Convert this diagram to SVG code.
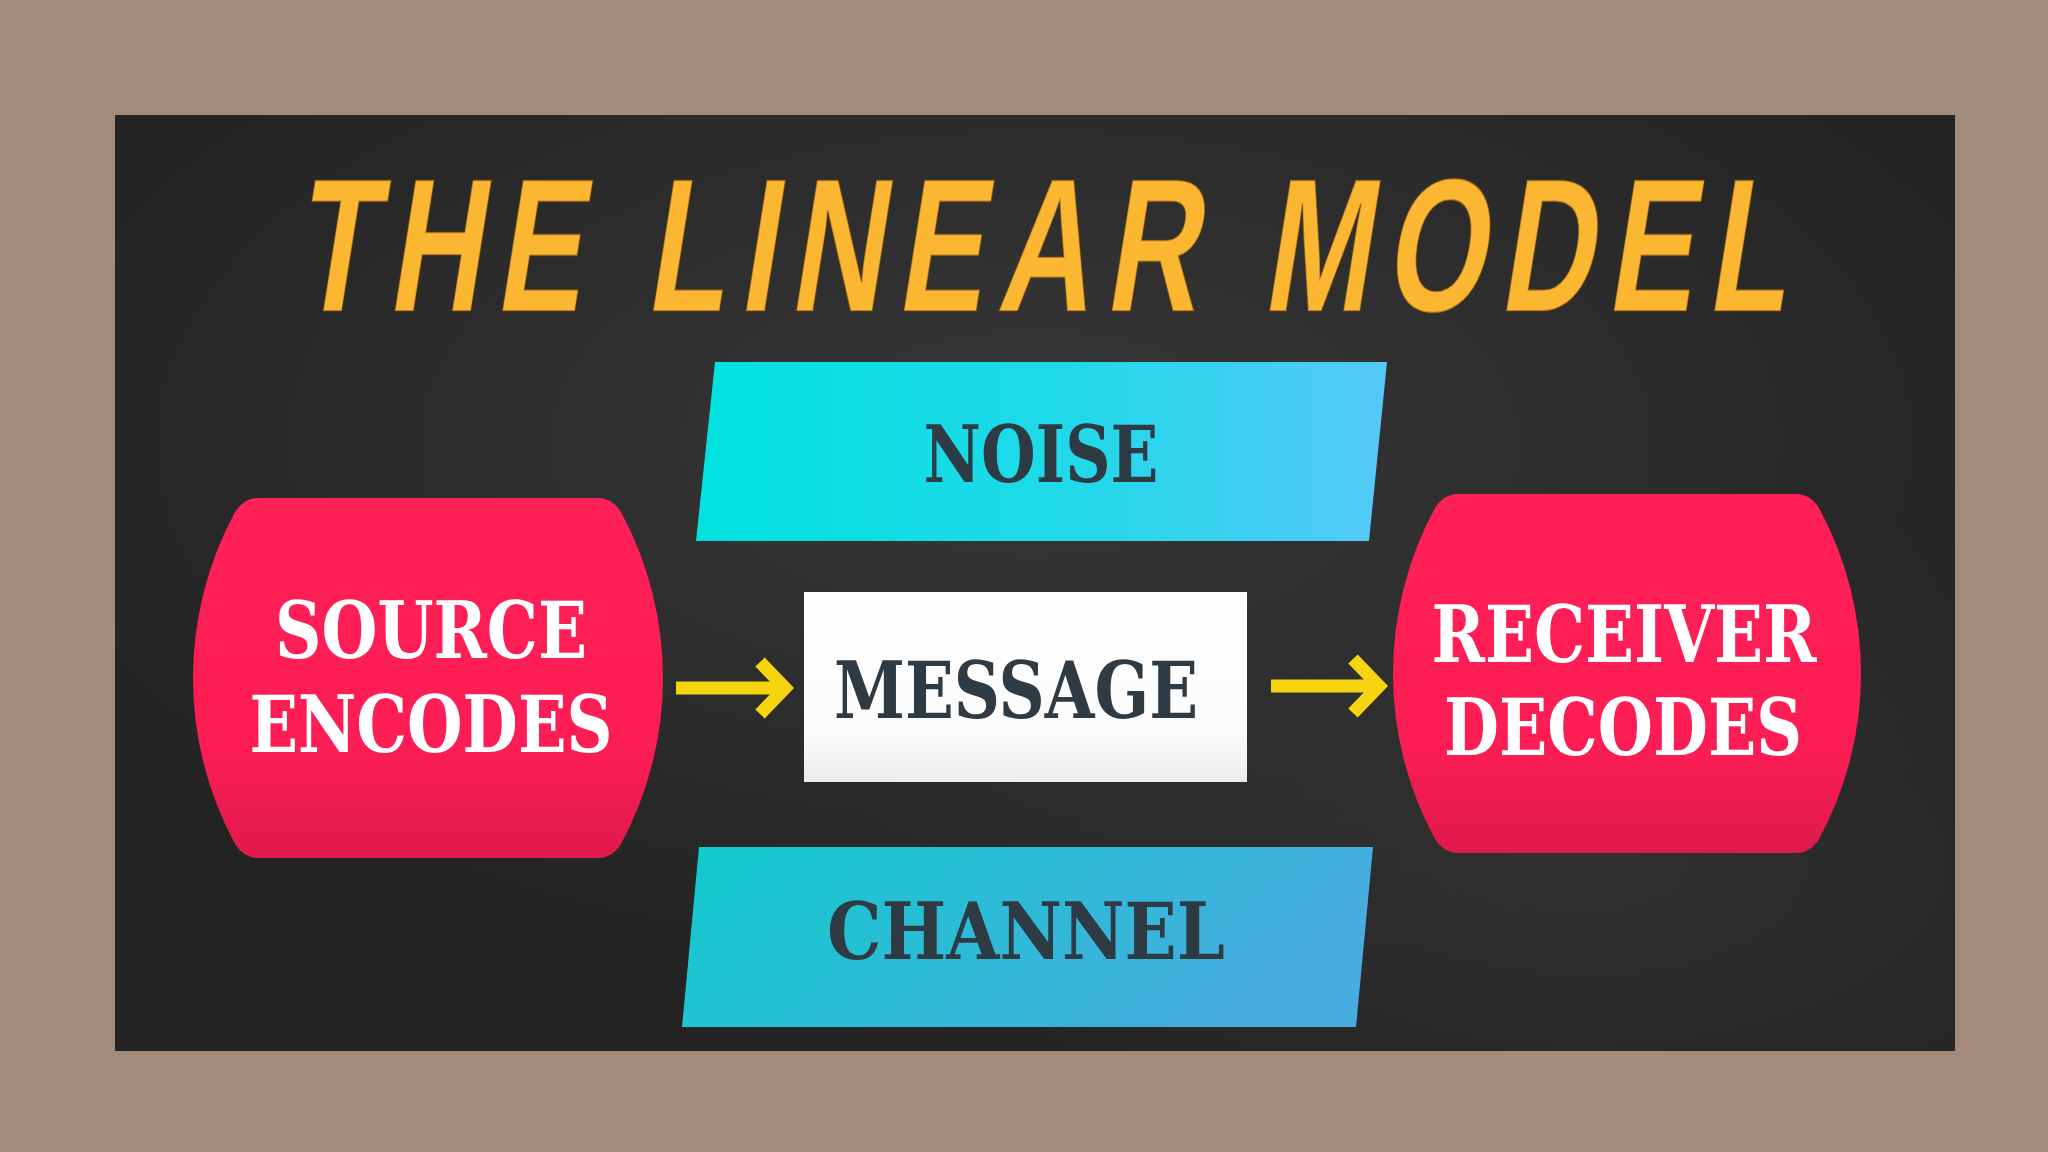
<svg xmlns="http://www.w3.org/2000/svg" width="2048" height="1152" viewBox="0 0 2048 1152">
<defs>
<style>
.slab{font-family:"DejaVu Serif","Liberation Serif",serif;font-weight:bold;font-size:78px;text-anchor:middle}
.white{fill:#ffffff}
.dark{fill:#2e3a44}
.arrow{fill:none;stroke:#f7d410;stroke-width:13;stroke-linecap:butt;stroke-linejoin:miter}
</style>
<linearGradient id="noiseGrad" x1="0" y1="0" x2="1" y2="0">
<stop offset="0" stop-color="#00e2e0"/>
<stop offset="0.55" stop-color="#22d8ea"/>
<stop offset="1" stop-color="#55c8f8"/>
</linearGradient>
<linearGradient id="chanGrad" x1="0" y1="0" x2="1" y2="0.3">
<stop offset="0" stop-color="#10cbcc"/>
<stop offset="1" stop-color="#47ace0"/>
</linearGradient>
<linearGradient id="redGrad" x1="0" y1="0" x2="0" y2="1">
<stop offset="0" stop-color="#ff2058"/>
<stop offset="0.7" stop-color="#fb1d53"/>
<stop offset="1" stop-color="#e01a4c"/>
</linearGradient>
<linearGradient id="msgGrad" x1="0" y1="0" x2="0" y2="1">
<stop offset="0" stop-color="#ffffff"/>
<stop offset="0.75" stop-color="#fbfbfb"/>
<stop offset="1" stop-color="#ececec"/>
</linearGradient>
<radialGradient id="chalk1" cx="0.5" cy="0.35" r="0.6">
<stop offset="0" stop-color="#3c3c3c" stop-opacity="0.8"/>
<stop offset="1" stop-color="#3c3c3c" stop-opacity="0"/>
</radialGradient>
<radialGradient id="chalk2" cx="0.8" cy="0.8" r="0.4">
<stop offset="0" stop-color="#353535" stop-opacity="0.7"/>
<stop offset="1" stop-color="#353535" stop-opacity="0"/>
</radialGradient>
</defs>

<rect x="0" y="0" width="2048" height="1152" fill="#a38b7c"/>
<g id="board">
<rect x="115" y="115" width="1840" height="936" fill="#232323"/>
<rect x="115" y="115" width="1840" height="936" fill="url(#chalk1)"/>
<rect x="115" y="115" width="1840" height="936" fill="url(#chalk2)"/>
</g>

<g id="title">
<text transform="translate(293,311) skewX(-9) scale(0.68,1)" x="0" y="0" letter-spacing="21" font-family="'Liberation Sans','DejaVu Sans',sans-serif" font-weight="bold" font-size="190" fill="#fbb731" stroke="#6a3e0c" stroke-width="2" stroke-opacity="0.45">THE LINEAR MODEL</text>
</g>

<g id="noise">
<polygon points="715,362 1387,362 1369,541 696,541" fill="url(#noiseGrad)"/>
<text class="slab dark" x="1041" y="482" textLength="235" lengthAdjust="spacingAndGlyphs">NOISE</text>
</g>

<g id="source">
<path d="M258,498 H598 Q612,498 621,512 A349,349 0 0 1 621,844 Q612,858 598,858 H258 Q244,858 235,844 A349,349 0 0 1 235,512 Q244,498 258,498 Z" fill="url(#redGrad)"/>
<text class="slab white" x="431" y="658" textLength="312" lengthAdjust="spacingAndGlyphs">SOURCE</text>
<text class="slab white" x="431" y="752" textLength="363" lengthAdjust="spacingAndGlyphs">ENCODES</text>
</g>

<g id="message">
<rect x="804" y="592" width="443" height="190" fill="url(#msgGrad)"/>
<text class="slab dark" x="1016" y="718" textLength="364" lengthAdjust="spacingAndGlyphs">MESSAGE</text>
</g>

<g id="receiver">
<path d="M1458,494 H1796 Q1810,494 1819,508 A347,347 0 0 1 1819,839 Q1810,853 1796,853 H1458 Q1444,853 1435,839 A347,347 0 0 1 1435,508 Q1444,494 1458,494 Z" fill="url(#redGrad)"/>
<text class="slab white" x="1624" y="662" textLength="385" lengthAdjust="spacingAndGlyphs">RECEIVER</text>
<text class="slab white" x="1623" y="755" textLength="358" lengthAdjust="spacingAndGlyphs">DECODES</text>
</g>

<g id="channel">
<polygon points="699,847 1373,847 1356,1027 682,1027" fill="url(#chanGrad)"/>
<text class="slab dark" x="1026" y="959" textLength="398" lengthAdjust="spacingAndGlyphs">CHANNEL</text>
</g>

<g id="connectors">
<path class="arrow" d="M676,688 H778"/>
<path class="arrow" d="M760,662 L785,688 L760,714"/>
<path class="arrow" d="M1271,686 H1372"/>
<path class="arrow" d="M1353,659 L1379,686 L1353,713"/>
</g>
</svg>
